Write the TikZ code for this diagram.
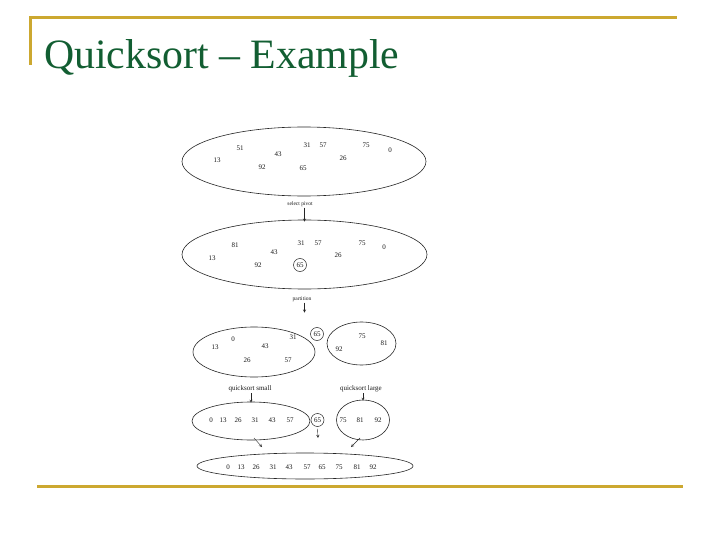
\documentclass[tikz,border=0pt]{standalone}
\usepackage{fontspec}
\setmainfont{Liberation Serif}
\usetikzlibrary{shapes.geometric,positioning}
\definecolor{titlegreen}{RGB}{18,94,50}
\definecolor{rulegold}{RGB}{204,168,48}
\tikzset{
	setbox/.style={ellipse,draw=black!85,line width=0.6pt,inner sep=0pt},
	num/.style={inner sep=0.5pt,font=\fontsize{7}{8}\selectfont,text=black!90},
	pivot/.style={num,circle,draw=black!85,line width=0.5pt,minimum size=13pt},
	stepname/.style={inner sep=1pt,font=\fontsize{5.5}{6}\selectfont,text=black!90},
	sortname/.style={inner sep=1pt,font=\fontsize{7}{8}\selectfont,text=black!90},
	arr/.style={->,>=stealth,line width=0.4pt,black!85}
}
\begin{document}
\begin{tikzpicture}[x=1pt,y=-1pt]
	\useasboundingbox (0,0) rectangle (720,540);
	\fill[white] (0,0) rectangle (720,540);

	% slide frame and title
	\draw[rulegold,line width=3pt] (30,65) -- (30,18) -- (677,18);
	\draw[rulegold,line width=3pt] (37,486) -- (683,486);
	\node(title) [anchor=base west,inner sep=0pt,text=titlegreen,font=\fontsize{41.8}{42}\selectfont] at (44,69) {Quicksort -- Example};

	% the unsorted set
	\node(e1) [setbox,minimum width=244pt,minimum height=69pt] at (304,161.5) {};
	\node(a51) [num] at (240,148) {51}; \node(a13) [num] at (217,160) {13};
	\node(a43) [num] at (278,154) {43}; \node(a92) [num] at (262,167) {92};
	\node(a31) [num] at (307,145) {31}; \node(a57) [num] at (323,145) {57};
	\node(a65) [num] at (303,168) {65}; \node(a26) [num] at (343,158) {26};
	\node(a75) [num] at (366,145) {75}; \node(a0) [num] at (390,150) {0};

	\node(sp) [stepname] at (300,204) {select pivot};

	% pivot chosen
	\node(e2) [setbox,minimum width=245pt,minimum height=69pt] at (304.5,254.5) {};
	\node(b81) [num] at (235,245) {81}; \node(b13) [num] at (212,258) {13};
	\node(b43) [num] at (274,252) {43}; \node(b92) [num] at (258,265) {92};
	\node(b31) [num] at (301,243) {31}; \node(b57) [num] at (318,243) {57};
	\node(b75) [num] at (362,243) {75}; \node(b0) [num] at (384,247) {0};
	\node(b26) [num] at (338,255) {26};
	\node(b65) [pivot] at (300,265) {65};

	\node(pt) [stepname] at (302,299) {partition};

	% partitioned
	\node(e3l) [setbox,minimum width=122pt,minimum height=50pt] at (254,352) {};
	\node(e3r) [setbox,minimum width=69pt,minimum height=43pt] at (361.5,343.5) {};
	\node(c0) [num] at (233,339) {0}; \node(c13) [num] at (215,347) {13};
	\node(c43) [num] at (265,346) {43}; \node(c31) [num] at (293,337) {31};
	\node(c26) [num] at (247,360) {26}; \node(c57) [num] at (288,360) {57};
	\node(c65) [pivot] at (317,334) {65};
	\node(c75) [num] at (362,336) {75}; \node(c81) [num] at (384,343) {81};
	\node(c92) [num] at (339,349) {92};

	\node(qs) [sortname] at (250,389) {quicksort small};
	\node(ql) [sortname] at (361,389) {quicksort large};

	% sorted halves
	\node(e4l) [setbox,minimum width=118pt,minimum height=38pt] at (251,421) {};
	\node(e4r) [setbox,minimum width=53pt,minimum height=40pt] at (363,420) {};
	\node(d0) [num] at (211,420) {0}; \node(d13) [num] at (223,420) {13};
	\node(d26) [num] at (238,420) {26}; \node(d31) [num] at (255,420) {31};
	\node(d43) [num] at (272,420) {43}; \node(d57) [num] at (290,420) {57};
	\node(d65) [pivot] at (317.5,420) {65};
	\node(d75) [num] at (343,420) {75}; \node(d81) [num] at (360,420) {81};
	\node(d92) [num] at (378,420) {92};

	% sorted set
	\node(e5) [setbox,minimum width=216pt,minimum height=26pt] at (305,466) {};
	\node(f0) [num] at (228,467) {0}; \node(f13) [num] at (241,467) {13};
	\node(f26) [num] at (256,467) {26}; \node(f31) [num] at (273,467) {31};
	\node(f43) [num] at (289,467) {43}; \node(f57) [num] at (307,467) {57};
	\node(f65) [num] at (322,467) {65}; \node(f75) [num] at (339,467) {75};
	\node(f81) [num] at (357,467) {81}; \node(f92) [num] at (373,467) {92};

	\coordinate(ml) at (262,447);
	\coordinate(mc) at (318,438);
	\coordinate(mr) at (351,447);

	\draw[arr] (sp.south -| e2.north) -- ([yshift=-2pt]e2.north);
	\draw[arr] (pt.south -| e2.south) -- ++(0,10);
	\draw[arr] (qs.south -| e4l.north) -- ([yshift=-1pt]e4l.north);
	\draw[arr] (ql.south -| e4r.north) -- ([yshift=-1pt]e4r.north);
	\draw[arr] (d65.south) ++(0,2) -- (mc);
	\draw[arr] (254,438) -- (ml);
	\draw[arr] (360,438) -- (mr);
\end{tikzpicture}
\end{document}
